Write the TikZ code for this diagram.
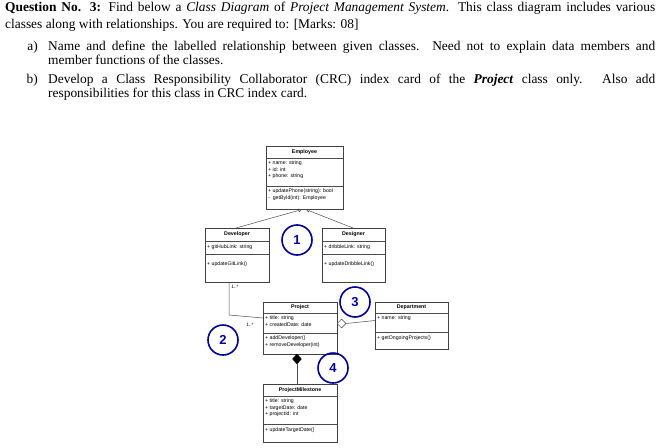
\documentclass[tikz,border=0pt]{standalone}
\usepackage{fontspec}
\setmainfont{Liberation Serif}
\newfontfamily\diag{Liberation Sans}
\usetikzlibrary{shapes.geometric,arrows.meta}
\begin{document}
\begin{tikzpicture}[x=1pt,y=-1pt,
  box/.style={draw=black!75,line width=0.5pt},
  tx/.style={font=\diag\fontsize{5.2}{6.4}\selectfont,anchor=north west,inner sep=0pt,align=left},
  ttl/.style={font=\diag\bfseries\fontsize{5.3}{6}\selectfont,inner sep=0pt},
  num/.style={circle,draw=blue!60!black,line width=1.6pt,minimum size=30pt,inner sep=0pt,text=blue!60!black,font=\diag\bfseries\fontsize{13}{13}\selectfont},
  mult/.style={font=\diag\fontsize{4.8}{4.8}\selectfont,inner sep=0pt},
  ln/.style={draw=black!70,line width=0.5pt}]
\useasboundingbox (0,0) rectangle (661,447);
\fill[white] (0,0) rectangle (661,447);
\node[anchor=north west,inner sep=0pt,text width=650pt,align=justify,font=\fontsize{13.4}{17}\selectfont] (q) at (5,2)
 {\textbf{Question No. 3:} Find below a \textit{Class Diagram} of \textit{Project Management System}. This class diagram includes various\linebreak classes along with relationships. You are required to: [Marks: 08]};
\node[anchor=north west,inner sep=0pt,text width=607pt,align=justify,font=\fontsize{13.4}{13.5}\selectfont] (a) at (48,41)
 {Name and define the labelled relationship between given classes. Need not to explain data members and\linebreak member functions of the classes.};
\node[anchor=north east,inner sep=0pt,font=\fontsize{13.4}{13.5}\selectfont] (al) at (38,41) {a)};
\node[anchor=north west,inner sep=0pt,text width=607pt,align=justify,font=\fontsize{13.4}{13.5}\selectfont] (b) at (48,74)
 {Develop a Class Responsibility Collaborator (CRC) index card of the \textbf{\textit{Project}} class only. Also add\linebreak responsibilities for this class in CRC index card.};
\node[anchor=north east,inner sep=0pt,font=\fontsize{13.4}{13.5}\selectfont] (bl) at (38,74) {b)};
% Employee
\draw[box] (266,146) rectangle (343,209); \draw[ln] (266,158)--(343,158); \draw[ln] (266,186)--(343,186);
\node[ttl] (emp) at (304.5,152) {Employee};
\node[tx] (empa) at (268,161) {+ name: string\\+ id: int\\+ phone: string};
\node[tx] (empm) at (268,189) {+ updatePhone(string): bool\\-\ \ getById(int): Employee};
% Developer
\draw[box] (205,228) rectangle (269,282); \draw[ln] (205,241)--(269,241); \draw[ln] (205,254)--(269,254);
\node[ttl] (dev) at (237,234.5) {Developer};
\node[tx] (deva) at (207,244.5) {+ gitHubLink: string};
\node[tx] (devm) at (207,262) {+ updateGitLink()};
% Designer
\draw[box] (322,228) rectangle (385,282); \draw[ln] (322,241)--(385,241); \draw[ln] (322,254)--(385,254);
\node[ttl] (des) at (353.5,234.5) {Designer};
\node[tx] (desa) at (324,244.5) {+ dribbleLink: string};
\node[tx] (desm) at (324,262) {+ updateDribbleLink()};
\draw[ln,-{Triangle[open,length=3.5pt,width=3.5pt]}] (236,228) -- (302,209.5);
\draw[ln,-{Triangle[open,length=3.5pt,width=3.5pt]}] (353,228) -- (306,209.5);
% Project
\draw[box] (263,302) rectangle (337,354); \draw[ln] (263,313)--(337,313); \draw[ln] (263,333)--(337,333);
\node[ttl] (prj) at (300,307.5) {Project};
\node[tx] (prja) at (265,316) {+ title: string\\+ createdDate: date};
\node[tx] (prjm) at (265,336) {+ addDeveloper()\\+ removeDeveloper(int)};
% Department
\draw[box] (375,302) rectangle (448,349); \draw[ln] (375,313)--(448,313); \draw[ln] (375,332)--(448,332);
\node[ttl] (dep) at (411.5,307.5) {Department};
\node[tx] (depa) at (377,316) {+ name: string};
\node[tx] (depm) at (377,336) {+ getOngoingProjects()};
% Milestone
\draw[box] (263,384) rectangle (337,442); \draw[ln] (263,396)--(337,396); \draw[ln] (263,424)--(337,424);
\node[ttl] (ms) at (300,390) {ProjectMilestone};
\node[tx] (msa) at (265,399) {+ title: string\\+ targetDate: date\\+ projectId: int};
\node[tx] (msm) at (265,428) {+ updateTargetDate()};
% associations
\draw[ln] (229,282) -- (229,315) -- (263,318);
\node[mult] (m1) at (235,287) {1..*};
\node[mult] (m2) at (250,325) {1..*};
\node[diamond,draw=black!75,fill=white,line width=0.5pt,minimum width=9pt,minimum height=9pt,inner sep=0pt,aspect=1] (agg) at (341.5,323.5) {};
\draw[ln] (agg.east) -- (375,320.5);
\node[diamond,draw=black,fill=black,minimum width=9pt,minimum height=10pt,inner sep=0pt] (cmp) at (297,359) {};
\draw[ln] (cmp.south) -- (297,384);
% numbers
\node[num] (n1) at (297,240) {1};
\node[num] (n2) at (223,340) {2};
\node[num] (n3) at (355,302) {3};
\node[num] (n4) at (333,368) {4};
\end{tikzpicture}
\end{document}
